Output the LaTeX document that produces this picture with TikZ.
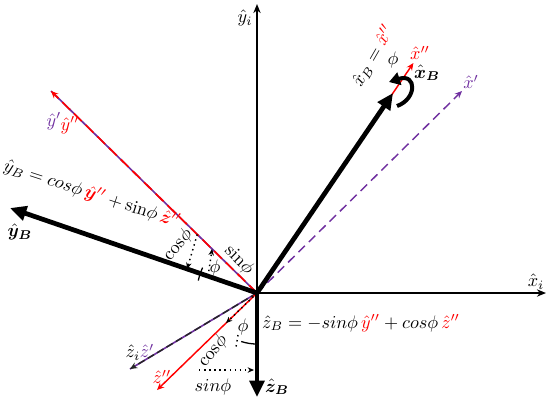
\documentclass[tikz,border=0pt]{standalone}
\usepackage{bm}
\usetikzlibrary{arrows.meta,calc}
\definecolor{vpurple}{RGB}{112,48,160}

\begin{document}
\begin{tikzpicture}[x=0.55pt,y=-0.55pt,
    axis/.style={line width=0.8pt,-{Stealth[length=5pt,width=4pt]}},
    body/.style={line width=2.6pt,-{Triangle[length=9pt,width=8pt]}},
    thinvec/.style={line width=0.8pt,-{Stealth[length=4pt,width=3.5pt]}},
    dots/.style={dotted,line width=0.8pt,-{Stealth[length=3.5pt,width=3pt]}},
    lbl/.style={inner sep=1pt}]
    \useasboundingbox (0,0) rectangle (550,402);
    % Points
    \coordinate (O) at (257,293);
    \coordinate (Yi) at (257,4);
    \coordinate (Xi) at (546,293);
    \coordinate (XB) at (393,93);
    \coordinate (Xpp) at ($(O)!1.15!(XB)$);
    \coordinate (Xp) at (462,91);
    \coordinate (Yp) at (51,91);
    \coordinate (YB) at (10,208);
    \coordinate (ZB) at (257,397);
    \coordinate (Zp) at (130,369);
    \coordinate (Zpp) at (157,390);
    \coordinate (cu1) at ($(O)!0.29!(Yp)$);
    \coordinate (cu2) at ($(O)!0.283!(YB)$);
    \coordinate (su1) at ($(O)!0.198!(YB)$);
    \coordinate (su2) at ($(O)!0.218!(Yp)$);
    \coordinate (cl) at ($(O)!0.31!(Zpp)$);
    \coordinate (sl1) at (199,370);
    \coordinate (sl2) at (254,370);
    % Inertial axes
    \draw[axis] (O) -- (Yi);
    \draw[axis] (O) -- (Xi);
    % Intermediate frames
    \draw[thinvec,red] (O) -- (Xpp);
    \draw[vpurple,line width=0.8pt,dash pattern=on 5pt off 3pt,-{Stealth[length=4pt,width=3.5pt]}] (O) -- (Xp);
    \draw[vpurple,line width=0.9pt] (O) -- (Yp);
    \draw[red,line width=0.9pt,dash pattern=on 6pt off 3pt,-{Stealth[length=4pt,width=3.5pt]}] (O) -- (Yp);
    \draw[vpurple,line width=0.9pt] (O) -- (Zp);
    \draw[black!85,line width=0.8pt,dash pattern=on 4pt off 2pt,-{Stealth[length=4pt,width=3.5pt]}] (O) -- (Zp);
    \draw[thinvec,red] (O) -- (Zpp);
    % Body frame
    \draw[body] (O) -- (XB);
    \draw[body] (O) -- (YB);
    \draw[body] (O) -- (ZB);
    \draw[line width=2.2pt,-{Triangle[length=6pt,width=7pt]}] (397,106) .. controls (417,99) and (417,73) .. (389,82);
    % Projections
    \draw[dots] (cu1) -- (cu2);
    \draw[dots] (su1) -- (su2);
    \draw[dots] (O) -- (cl);
    \draw[dotted,line width=0.8pt] (238,335) -- (236,347);
    \draw[dots] (sl1) -- (sl2);
    \draw[line width=0.7pt] ($(O)+(-155:60)$) arc (-155:-168:60);
    \draw[line width=0.7pt] ($(O)+(-252:51)$) arc (-252:-270:51);
    % Labels
    \node[lbl] (lyi) at (245,18) {$\hat{y}_i$};
    \node[lbl] (lxi) at (536,282) {$\hat{x}_i$};
    \node[lbl] (lxB) at (427,73) {$\hat{\bm{x}}_{\bm{B}}$};
    \node[lbl,red] (lxpp) at (420,53) {$\hat{x}''$};
    \node[lbl,vpurple] (lxp) at (471,82) {$\hat{x}'$};
    \node[lbl,rotate=60] (lrot) at (373,56) {$\hat{x}_B = {\color{red}\hat{x}''}$};
    \node[lbl] (lphix) at (393,60) {$\phi$};
    \node[lbl,vpurple] (lyp) at (54,121) {$\hat{y}'$};
    \node[lbl,red] (lypp) at (70,125) {$\hat{y}''$};
    \node[lbl] (lyB) at (20,232) {$\hat{\bm{y}}_{\bm{B}}$};
    \node[lbl,rotate=-18] (lyeq) at (92,194) {$\hat{y}_B = cos\phi\,{\color{red}\hat{\bm{y}}''} + \mathrm{sin}\phi\,{\color{red}\hat{\bm{z}}''}$};
    \node[lbl,rotate=50] (lcu) at (178,245) {$\mathrm{cos}\phi$};
    \node[lbl,rotate=-45] (lsu) at (239,260) {$\mathrm{sin}\phi$};
    \node[lbl] (lphiu) at (215,268) {$\phi$};
    \node[lbl] (lzeq) at (361,323) {$\hat{z}_B = -sin\phi\,{\color{red}\hat{y}''} + cos\phi\,{\color{red}\hat{z}''}$};
    \node[lbl] (lzB) at (277,387) {$\hat{\bm{z}}_{\bm{B}}$};
    \node[lbl,rotate=50] (lcl) at (213,351) {$\mathrm{cos}\phi$};
    \node[lbl] (lphil) at (243,327) {$\phi$};
    \node[lbl] (lsl) at (213,387) {$sin\phi$};
    \node[lbl] (lzi) at (133,353) {$\hat{z}_i$};
    \node[lbl,vpurple] (lzp) at (147,351) {$\hat{z}'$};
    \node[lbl,red] (lzpp) at (162,377) {$\hat{z}''$};
\end{tikzpicture}
\end{document}
